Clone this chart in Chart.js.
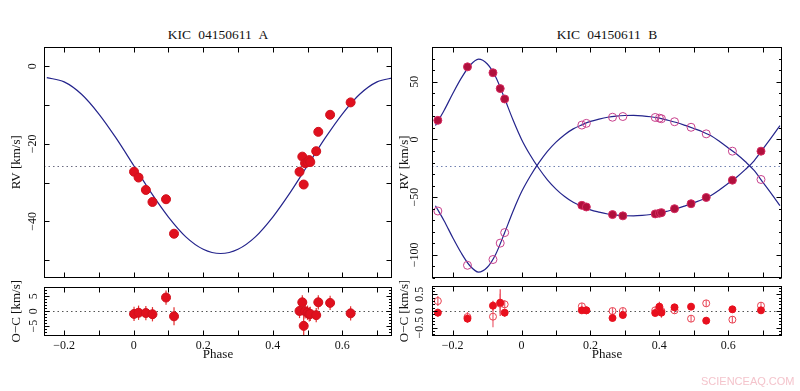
<!DOCTYPE html>
<html>
<head>
<meta charset="utf-8">
<script src="https://cdn.jsdelivr.net/npm/chart.js@4.4.1/dist/chart.umd.min.js"></script>
<style>
  body { margin: 0; background: #fff; }
  #page { position: relative; width: 800px; height: 391px; overflow: hidden; background: #fff; }
  canvas { position: absolute; }
  .ttl { position: absolute; top: 27px; height: 18px; line-height: 18px; text-align: center;
         font: 13.5px "Liberation Serif", serif; color: #111; word-spacing: 4px; }
  .wm { position: absolute; left: 701px; top: 375px; font: 11px "Liberation Sans", sans-serif; color: #f4c4cc; }
</style>
</head>
<body>
<div id="page">
  <div class="ttl" style="left:44px;width:348px">KIC 04150611 A</div>
  <div class="ttl" style="left:432px;width:350px">KIC 04150611 B</div>
  <canvas id="aTop" width="400" height="263" style="left:0;top:20px"></canvas>
  <canvas id="aRes" width="400" height="81" style="left:0;top:281px"></canvas>
  <canvas id="bTop" width="410" height="263" style="left:390px;top:20px"></canvas>
  <canvas id="bRes" width="410" height="81" style="left:390px;top:281px"></canvas>
  <div class="wm">SCIENCEAQ.COM</div>
</div>
<script>
// ---- star A (single-lined) ----
const phaseA = [0.001, 0.014, 0.035, 0.054, 0.093, 0.116, 0.477, 0.485, 0.489, 0.493, 0.500, 0.505, 0.508, 0.525, 0.531, 0.565, 0.624];
const rvA    = [-27.2, -28.7, -31.9, -35.0, -34.3, -43.2, -27.2, -23.3, -30.5, -25.0, -24.7, -24.2, -24.7, -21.9, -16.9, -12.5, -9.3];
const ocA    = [-0.9, -0.5, -0.6, -1.0, 4.6, -1.7, 0.1, 3.0, -4.9, 0.0, -0.5, -1.0, -0.9, -1.3, 3.0, 2.8, -0.7];
const errA   = [2.4, 2.4, 2.4, 2.4, 2.4, 3.0, 2.4, 2.4, 3.4, 2.4, 2.4, 2.4, 2.4, 2.4, 2.4, 2.4, 2.4];
const modelPhaseA = [-0.25, -0.2, -0.15, -0.1, -0.05, 0, 0.05, 0.1, 0.15, 0.2, 0.25, 0.3, 0.35, 0.4, 0.45, 0.5, 0.55, 0.6, 0.65, 0.7, 0.75];
const modelA = [-2.9, -4.0, -7.2, -12.3, -18.6, -25.6, -32.6, -38.9, -44.0, -47.2, -48.3, -47.2, -44.0, -38.9, -32.6, -25.6, -18.6, -12.3, -7.2, -4.0, -2.9];
const gammaA = -25.6;

// ---- star B (double-lined) ----
const phaseB = [-0.243, -0.157, -0.083, -0.062, -0.049, 0.175, 0.188, 0.264, 0.294, 0.388, 0.400, 0.406, 0.444, 0.492, 0.536, 0.612, 0.695];
const rvB1   = [16.5, 62.8, 57.7, 44.0, 35.0, -57.1, -58.5, -65.1, -66.2, -64.5, -63.9, -63.4, -60.0, -55.7, -50.3, -35.3, -10.2];
const rvB2   = [-62.0, -109.0, -104.0, -89.8, -80.7, 12.4, 13.9, 19.2, 19.8, 19.0, 18.4, 17.9, 15.3, 10.5, 4.8, -10.2, -34.7];
const ocB1   = [-0.05, -0.23, 0.16, 0.25, -0.05, 0.02, 0.02, -0.21, -0.12, -0.06, 0.13, -0.05, 0.11, 0.13, -0.29, 0.05, 0.02];
const ocB2   = [0.30, -0.18, -0.17, 0.22, 0.20, 0.14, 0.02, 0.0, 0.0, 0.02, 0.05, 0.0, 0.02, -0.23, 0.23, -0.26, 0.16];
const errB1  = [0.12, 0.12, 0.15, 0.40, 0.12, 0.10, 0.10, 0.10, 0.10, 0.10, 0.15, 0.15, 0.10, 0.10, 0.10, 0.10, 0.10];
const errB2  = [0.15, 0.15, 0.32, 0.30, 0.12, 0.10, 0.10, 0.10, 0.10, 0.10, 0.10, 0.10, 0.10, 0.10, 0.10, 0.10, 0.10];
const modelPhaseB = [-0.25, -0.225, -0.2, -0.175, -0.15, -0.125, -0.1, -0.075, -0.05, -0.025, 0, 0.025, 0.05, 0.075, 0.1, 0.125, 0.15, 0.175, 0.2, 0.225,
                     0.25, 0.275, 0.3, 0.325, 0.35, 0.375, 0.4, 0.425, 0.45, 0.475, 0.5, 0.525, 0.55, 0.575, 0.6, 0.625, 0.65, 0.675, 0.7, 0.725, 0.75];
const modelB1 = [12, 25, 39.5, 53, 64, 69.5, 65.5, 54, 36, 17, 0, -13.5, -25, -35, -43, -49.5, -54.5, -58, -61, -63,
                 -64.6, -65.6, -66.1, -66.2, -65.8, -65, -63.8, -62, -60, -57.5, -54.8, -52, -48.5, -43.5, -38, -32.5, -26, -18.5, -8.5, 1.5, 12];
const modelB2 = [-57.4, -70.4, -84.9, -98.4, -109.4, -114.9, -110.9, -99.4, -81.4, -62.4, -45.4, -31.9, -20.4, -10.4, -2.4, 4.1, 9.1, 12.6, 15.6, 17.6,
                 19.2, 20.2, 20.7, 20.8, 20.4, 19.6, 18.4, 16.6, 14.6, 12.1, 9.4, 6.6, 3.1, -1.9, -7.4, -12.9, -19.4, -26.9, -36.9, -46.9, -57.4];
const gammaB = -22.7;

// tick labels
const phaseTicks = [-0.2, 0, 0.2, 0.4, 0.6];
const yTicksA = [0, -20, -40];
const yTicksAres = [5, 0, -5];
const yTicksB = [50, 0, -50, -100];
const yTicksBres = [0.5, 0, -0.5];

const LINE = '#24248c';
const SERIF = '"Liberation Serif", "DejaVu Serif", serif';

const pts = (xs, ys) => xs.map((x, i) => ({ x: x, y: ys[i] }));
const fmt = v => (Math.abs(v) < 1e-9 ? '0' : String(v).replace('-', '\u2212'));

// frame with inward ticks, dotted reference line, error bars, rotated y labels
const framePlugin = {
  id: 'frame',
  beforeDatasetsDraw(chart, args, o) {
    const { ctx, chartArea: a, scales: { x, y } } = chart;
    ctx.save();
    if (o.ref != null) {
      const py = Math.round(y.getPixelForValue(o.ref)) + 0.5;
      ctx.strokeStyle = o.refColor || '#6a6a8a';
      ctx.lineWidth = 1;
      ctx.setLineDash([1.5, 3]);
      ctx.beginPath(); ctx.moveTo(a.left, py); ctx.lineTo(a.right, py); ctx.stroke();
      ctx.setLineDash([]);
    }
    chart.data.datasets.forEach(ds => {
      if (!ds.errors) return;
      ctx.strokeStyle = ds.errColor || '#e03030';
      ctx.lineWidth = 1.2;
      ds.data.forEach((p, i) => {
        const px = x.getPixelForValue(p.x);
        ctx.beginPath();
        ctx.moveTo(px, y.getPixelForValue(p.y + ds.errors[i]));
        ctx.lineTo(px, y.getPixelForValue(p.y - ds.errors[i]));
        ctx.stroke();
      });
    });
    ctx.restore();
  },
  afterDatasetsDraw(chart, args, o) {
    const { ctx, chartArea: a, scales: { x, y } } = chart;
    ctx.save();
    ctx.strokeStyle = '#000';
    ctx.lineWidth = 1;
    const L = Math.round(a.left) + 0.5, R = Math.round(a.right) - 0.5;
    const T = Math.round(a.top) + 0.5, B = Math.round(a.bottom) - 0.5;
    ctx.strokeRect(L, T, R - L, B - T);
    const tickRun = (lo, hi, step, len, horiz, sc) => {
      const start = Math.ceil(lo / step - 1e-6) * step;
      for (let v = start; v <= hi + 1e-9; v += step) {
        const p = Math.round(sc.getPixelForValue(v)) + 0.5;
        ctx.beginPath();
        if (horiz) {
          ctx.moveTo(p, T); ctx.lineTo(p, T + len);
          ctx.moveTo(p, B); ctx.lineTo(p, B - len);
        } else {
          ctx.moveTo(L, p); ctx.lineTo(L + len, p);
          ctx.moveTo(R, p); ctx.lineTo(R - len, p);
        }
        ctx.stroke();
      }
    };
    tickRun(x.min, x.max, o.xMajor, 5, true, x);
    if (o.yMinor) tickRun(y.min, y.max, o.yMinor, 2.5, false, y);
    tickRun(y.min, y.max, o.yMajor, 5, false, y);
    // rotated y tick labels
    ctx.fillStyle = '#111';
    ctx.font = '12px ' + SERIF;
    ctx.textAlign = 'center';
    ctx.textBaseline = 'middle';
    o.yLabels.forEach(v => {
      ctx.save();
      ctx.translate(a.left - o.yGap, y.getPixelForValue(v));
      ctx.rotate(-Math.PI / 2);
      ctx.fillText(fmt(v), 0, 0);
      ctx.restore();
    });
    ctx.restore();
  }
};

function makeChart(id, datasets, cfg) {
  const residual = cfg.residual;
  return new Chart(document.getElementById(id), {
    type: 'scatter',
    data: { datasets: datasets },
    plugins: [framePlugin],
    options: {
      responsive: false,
      animation: false,
      events: [],
      layout: { padding: { top: residual ? 1 : 27, right: cfg.padRight, left: 0, bottom: 0 } },
      plugins: {
        legend: { display: false },
        tooltip: { enabled: false },
        frame: cfg.frame
      },
      scales: {
        x: {
          type: 'linear', min: cfg.xmin, max: cfg.xmax,
          display: residual,
          grid: { display: false, drawTicks: false },
          border: { display: false },
          afterBuildTicks: s => { s.ticks = phaseTicks.map(v => ({ value: v })); },
          afterFit: s => { s.height = residual ? 26 : 0; },
          ticks: { padding: 3, color: '#111', font: { family: SERIF, size: 12 }, callback: v => fmt(v) },
          title: { display: residual, text: 'Phase', color: '#111', padding: { top: 0, bottom: 0 },
                   font: { family: SERIF, size: 13 } }
        },
        y: {
          type: 'linear', min: cfg.ymin, max: cfg.ymax,
          grid: { display: false, drawTicks: false },
          border: { display: false },
          ticks: { display: false },
          afterFit: s => { s.width = cfg.yWidth; },
          title: { display: true, text: cfg.yTitle, color: '#111', padding: { top: cfg.titlePad, bottom: 0 },
                   font: { family: SERIF, size: 13 } }
        }
      }
    }
  });
}

const curve = (xs, ys) => ({ type: 'line', data: pts(xs, ys), showLine: true, borderColor: LINE, borderWidth: 1.2,
  pointRadius: 0, cubicInterpolationMode: 'monotone', order: 5 });

// A: RV
makeChart('aTop', [
  { data: pts(phaseA, rvA), backgroundColor: '#e0101e', borderColor: '#d0101c', borderWidth: 1, pointRadius: 4.5, order: 1 },
  curve(modelPhaseA, modelA)
], { residual: false, xmin: -0.258, xmax: 0.743, ymin: -54.5, ymax: 5, padRight: 8, yWidth: 44, titlePad: 9,
     yTitle: 'RV [km/s]', frame: { ref: gammaA, refColor: '#6a6a80', xMajor: 0.1, yMajor: 10, yLabels: yTicksA, yGap: 11 } });

// A: O-C
makeChart('aRes', [
  { data: pts(phaseA, ocA), errors: errA, errColor: '#e23030', backgroundColor: '#e0101e', borderColor: '#d0101c',
    borderWidth: 1, pointRadius: 4.5, order: 1 }
], { residual: true, xmin: -0.258, xmax: 0.743, ymin: -8.3, ymax: 8.3, padRight: 8, yWidth: 44, titlePad: 9,
     yTitle: 'O\u2212C [km/s]', frame: { ref: 0, refColor: '#555', xMajor: 0.1, yMajor: 5, yMinor: 1, yLabels: yTicksAres, yGap: 10 } });

// B: RV
makeChart('bTop', [
  { data: pts(phaseB, rvB1), backgroundColor: '#b0103c', borderColor: '#d42a60', borderWidth: 1, pointRadius: 4, order: 1 },
  { data: pts(phaseB, rvB2), backgroundColor: 'rgba(0,0,0,0)', borderColor: '#c8408c', borderWidth: 1, pointRadius: 4, order: 2 },
  curve(modelPhaseB, modelB1),
  curve(modelPhaseB, modelB2)
], { residual: false, xmin: -0.26, xmax: 0.756, ymin: -120, ymax: 80, padRight: 18, yWidth: 42, titlePad: 7,
     yTitle: 'RV [km/s]', frame: { ref: gammaB, refColor: '#7080b0', xMajor: 0.1, yMajor: 50, yMinor: 10, yLabels: yTicksB, yGap: 17 } });

// B: O-C
makeChart('bRes', [
  { data: pts(phaseB, ocB1), errors: errB1, errColor: '#e84050', backgroundColor: '#e8101e', borderColor: '#e8101e',
    borderWidth: 1, pointRadius: 3.5, order: 1 },
  { data: pts(phaseB, ocB2), errors: errB2, errColor: '#ec6070', backgroundColor: 'rgba(0,0,0,0)', borderColor: '#e84050',
    borderWidth: 1, pointRadius: 3.5, order: 2 }
], { residual: true, xmin: -0.26, xmax: 0.756, ymin: -0.75, ymax: 0.75, padRight: 18, yWidth: 42, titlePad: 7,
     yTitle: 'O\u2212C [km/s]', frame: { ref: 0, refColor: '#555', xMajor: 0.1, yMajor: 0.5, yMinor: 0.1, yLabels: yTicksBres, yGap: 12 } });
</script>
</body>
</html>
